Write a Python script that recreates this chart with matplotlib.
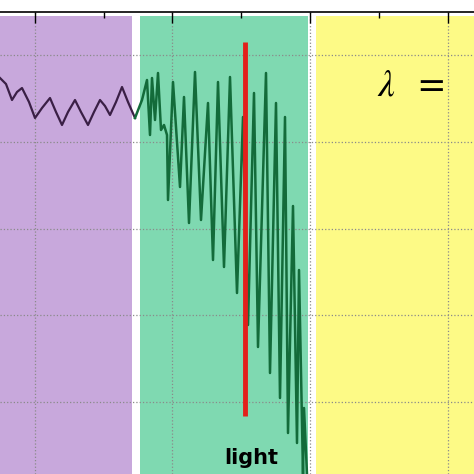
import matplotlib
matplotlib.use("Agg")
import matplotlib.pyplot as plt

plt.rcParams["mathtext.fontset"] = "stix"

# data (arbitrary units)
purple_x = [0, 6, 12, 17, 22, 29, 35, 42, 50, 56, 62, 68, 75, 81, 88, 94, 100, 105, 110, 116, 122, 128, 135]
purple_y = [396, 390, 374, 382, 386, 372, 356, 366, 376, 362, 349, 362, 374, 362, 349, 362, 374, 368, 359, 372, 387, 372, 356]
green_x = [135, 142, 147, 150, 152, 155, 158, 161, 164, 167, 168, 173, 180, 184, 189, 195, 201, 208, 213, 218, 224, 230,
           237, 243, 248, 254, 258, 266, 270, 276, 280, 285, 288, 293, 297, 299, 303, 304, 307]
green_y = [356, 374, 394, 339, 396, 354, 401, 344, 349, 339, 274, 392, 287, 377, 251, 402, 254, 371, 214, 392, 207, 397,
           181, 357, 149, 381, 127, 401, 101, 371, 76, 357, 41, 268, 31, 204, 0, 66, 0]
region_x0 = [0, 140, 316]
region_x1 = [132, 308, 474]
region_colors = ["#c8a8dc", "#7fd9b1", "#fdfa86"]
red_x = 245
red_y = [58, 432]
xticks_major = [35, 172, 310, 448]
xticks_minor = [104, 241, 379]
yticks = [72, 159, 245, 332, 419]

fig = plt.figure(figsize=(4.74, 4.74), dpi=100)
ax = fig.add_axes([0, 0, 1, 1 - 12/474])
ax.set_xlim(0, 474)
ax.set_ylim(0, 462)
for x0, x1, c in zip(region_x0, region_x1, region_colors):
    ax.axvspan(x0, x1, ymin=0, ymax=458/462, color=c, zorder=0, lw=0)
ax.set_xticks(xticks_major)
ax.set_xticks(xticks_minor, minor=True)
ax.set_yticks(yticks)
ax.grid(True, which="major", ls=":", color="#8a8a8a", lw=0.9, zorder=1)
ax.tick_params(axis="x", which="both", direction="in", top=True, bottom=False,
               labeltop=False, labelbottom=False, length=8, width=1)
ax.tick_params(axis="x", which="minor", length=4)
ax.tick_params(axis="y", left=False, labelleft=False, length=0)
for s in ["left", "right", "bottom"]:
    ax.spines[s].set_visible(False)
ax.spines["top"].set_linewidth(1.2)

ax.plot(purple_x, purple_y, color="#3a1f45", lw=1.6, zorder=3)
ax.plot(green_x, green_y, color="#136b3a", lw=1.8, zorder=3)
ax.plot([red_x, red_x], red_y, color="#e3201b", lw=3.5, zorder=4, solid_capstyle="butt")

ax.text(377, 389, r"$\lambda\ \ =\ \ -$", fontsize=27, va="center", ha="left", zorder=5, clip_on=True)
ax.text(224, 16, "light", fontsize=15, fontweight="bold", va="center", ha="left", zorder=5)

fig.savefig("out.png", dpi=100)
